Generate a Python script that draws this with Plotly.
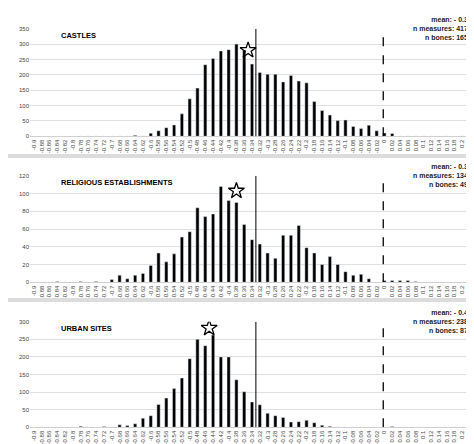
import plotly.graph_objects as go

labels = ["-0.9","-0.88","-0.86","-0.84","-0.82","-0.8","-0.78","-0.76","-0.74","-0.72","-0.7","-0.68","-0.66","-0.64","-0.62","-0.6","-0.58","-0.56","-0.54","-0.52","-0.5","-0.48","-0.46","-0.44","-0.42","-0.4","-0.38","-0.36","-0.34","-0.32","-0.3","-0.28","-0.26","-0.24","-0.22","-0.2","-0.18","-0.16","-0.14","-0.12","-0.1","-0.08","-0.06","-0.04","-0.02","0","0.02","0.04","0.06","0.08","0.1","0.12","0.14","0.16","0.18","0.2","0.22"]
castles = [0,0,0,0,0,0,1,1,1,0,0,1,1,3,1,10,18,28,37,73,122,157,233,253,278,282,300,280,235,208,202,202,177,198,180,174,113,84,69,51,53,32,25,36,18,11,9,1,1,1,1,1,0,1,0,1,0]
religious = [0,0,0,1,0,0,1,0,1,0,3,8,4,8,10,19,33,23,32,51,57,84,74,77,108,92,90,65,48,43,33,27,53,53,64,39,33,20,29,20,12,8,9,4,0,2,2,2,2,1,0,0,0,0,0,0,0]
urban = [0,0,0,0,0,1,3,0,0,2,1,7,5,10,26,33,65,83,110,140,195,250,232,262,200,200,135,101,72,64,40,33,28,15,16,20,13,6,3,1,1,0,0,1,0,0,2,0,0,0,0,0,0,0,0,0,0]
titles = ["CASTLES", "RELIGIOUS ESTABLISHMENTS", "URBAN SITES"]
stats = [["mean: - 0.34","n measures: 4178","n bones: 1651"],
         ["mean: - 0.38","n measures: 1345","n bones: 494"],
         ["mean: - 0.45","n measures: 2388","n bones: 871"]]
star_x = [27.5, 26, 22.5]
star_y = [280, 103, 282]
ymax = [350, 120, 300]
dticks = [50, 20, 50]
means_line = [28.5, 28.5, 28.5]
zero_line = 44.85

series = [castles, religious, urban]
H = 444
pix = [(127, 18), (275, 167), (422, 315)]
fig = go.Figure()
xs = list(range(len(labels)))
for i in range(3):
    n = "" if i == 0 else str(i + 1)
    ax = "x" + n
    ay = "y" + n
    fig.add_trace(go.Bar(x=xs, y=series[i], xaxis=ax, yaxis=ay, marker_color="black", width=0.42, showlegend=False))
    fig.add_trace(go.Scatter(x=[star_x[i]], y=[star_y[i]], xaxis=ax, yaxis=ay, mode="markers",
                             marker=dict(symbol="star-open", size=12, color="black", line=dict(width=1.3)), showlegend=False))
    b, t = pix[i]
    dom = [1 - b / H, 1 - t / H]
    fig.update_layout(**{
        "xaxis" + n: dict(domain=[0, 1], range=[-0.5, 56.5], tickmode="array", tickvals=xs, ticktext=labels,
                          tickangle=-90, tickfont=dict(size=6, color="#444"), anchor=ay, showgrid=False,
                          linecolor="#d0d0d0", showline=True, ticks=""),
        "yaxis" + n: dict(domain=dom, range=[0, ymax[i]], dtick=dticks[i], anchor=ax, showgrid=True,
                          gridcolor="#e0e0e0", tickfont=dict(size=6, color="#444"), zeroline=False),
    })
    fig.add_shape(type="line", xref=ax, yref=ay, x0=means_line[i], x1=means_line[i], y0=0, y1=ymax[i],
                  line=dict(color="black", width=1))
    fig.add_shape(type="line", xref=ax, yref=ay, x0=zero_line, x1=zero_line, y0=0, y1=ymax[i] * 0.97,
                  line=dict(color="black", width=1.3, dash="dash"))
    fig.add_annotation(xref=ax + " domain", yref=ay + " domain", x=0.065, y=1.0, text="<b>" + titles[i] + "</b>",
                       showarrow=False, xanchor="left", yanchor="top", font=dict(size=7.5, color="black"))
    fig.add_annotation(xref=ax + " domain", yref=ay + " domain", x=1.0, y=1.14, text="<b>" + "<br>".join(stats[i]) + "</b>",
                       showarrow=False, xanchor="right", yanchor="top", align="right", font=dict(size=7, color="#222"))
for yy in [147, 293]:
    fig.add_shape(type="rect", xref="paper", yref="paper", x0=-0.05, x1=1.05, y0=1 - (yy + 2) / H, y1=1 - (yy - 2) / H,
                  fillcolor="#dcdcdc", line_width=0)
fig.update_layout(width=474, height=444, margin=dict(l=22, r=8, t=0, b=0), plot_bgcolor="white",
                  paper_bgcolor="white", font=dict(family="Liberation Sans"), bargap=0.5)
fig.write_html("out.html")
